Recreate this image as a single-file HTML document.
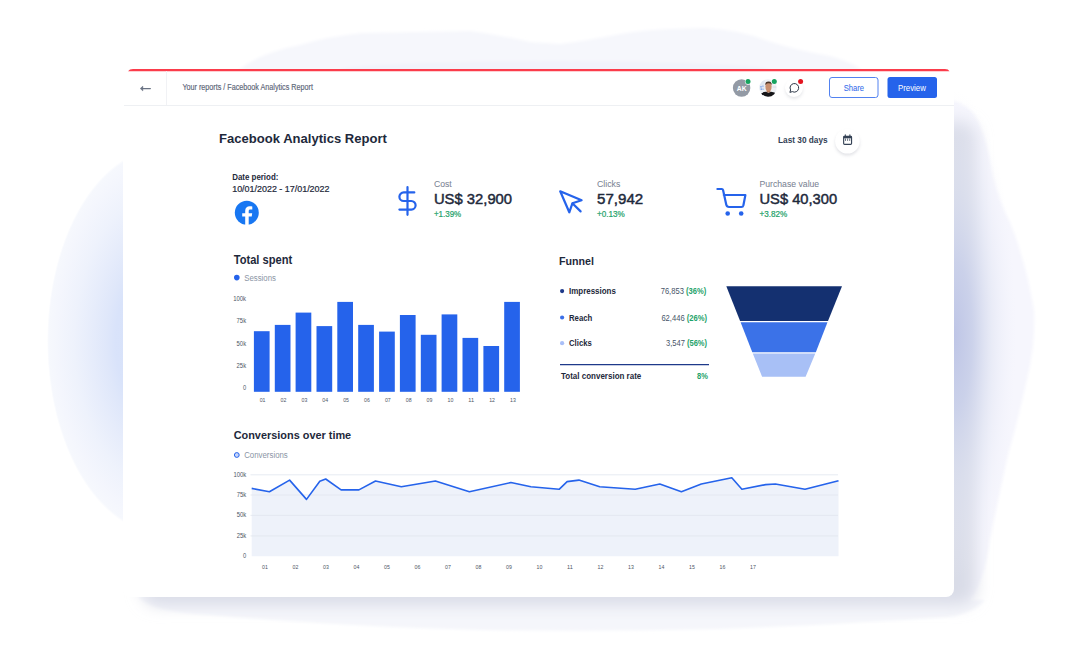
<!DOCTYPE html>
<html><head><meta charset="utf-8"><title>Facebook Analytics Report</title>
<style>
html,body{margin:0;padding:0;}
body{width:1080px;height:664px;overflow:hidden;background:#fff;position:relative;font-family:"Liberation Sans",Arial,sans-serif;}
.abs{position:absolute;}
.blob{position:absolute;border-radius:50%;}
#card{position:absolute;left:123px;top:69px;width:831px;height:528px;background:#fff;border-radius:7px 7px 8px 8px;}
svg text{font-family:"Liberation Sans",Arial,sans-serif;}
</style></head>
<body>

<svg class="abs" style="left:0;top:0" width="1080" height="664" viewBox="0 0 1080 664">
<defs>
<radialGradient id="gl" cx="165" cy="341" r="1" gradientUnits="userSpaceOnUse" gradientTransform="translate(165 341) scale(118 194) translate(-165 -341)">
<stop offset="0" stop-color="#d4dff9"/><stop offset="0.42" stop-color="#d9e3fa"/><stop offset="0.5" stop-color="#dfe7fa"/><stop offset="0.62" stop-color="#e6ecfb"/><stop offset="0.77" stop-color="#eef2fc"/><stop offset="0.92" stop-color="#f4f6fd"/><stop offset="0.985" stop-color="#f6f8fd"/><stop offset="1" stop-color="#fff"/>
</radialGradient>
<radialGradient id="gr" cx="954" cy="335" r="1" gradientUnits="userSpaceOnUse" gradientTransform="translate(954 335) scale(62 245) translate(-954 -335)">
<stop offset="0" stop-color="#bec5e6" stop-opacity="1"/><stop offset="0.3" stop-color="#c8cfea" stop-opacity="0.85"/><stop offset="0.6" stop-color="#dadff0" stop-opacity="0.5"/><stop offset="1" stop-color="#eeeffa" stop-opacity="0"/>
</radialGradient>
<filter id="b10" x="-10%" y="-10%" width="120%" height="120%"><feGaussianBlur stdDeviation="8"/></filter>
<filter id="b2"><feGaussianBlur stdDeviation="1.5"/></filter>
</defs>
<g filter="url(#b2)">
<path d="M238 70 Q262 52 300 45 Q330 36 362 33 L470 31 Q505 36 530 42 L560 44 Q590 40 615 35 Q640 30 670 29 L705 28 Q740 30 765 40 Q795 50 830 56 Q852 62 862 70 Z" fill="#f6f7fc"/><ellipse cx="555" cy="70" rx="215" ry="9" fill="#f1f3fb"/>
<path d="M138 596 Q150 612 210 615 Q330 626 480 630 Q600 632 720 629 Q850 624 950 617 Q975 612 985 600 Z" fill="#f5f6fb"/>
<path d="M940 101 L954 101 Q966 104 975 115 Q986 135 992 170 Q998 200 1010 222 Q1026 262 1034 310 Q1036 340 1028 375 Q1018 420 1008 455 Q998 500 990 540 Q985 580 970 600 L940 600 Z" fill="#f6f6fd"/>
</g>
<ellipse cx="165" cy="341" rx="118" ry="194" fill="url(#gl)"/>
<rect x="142" y="122" width="834" height="483" rx="16" fill="#d9dce7" filter="url(#b10)"/>
<ellipse cx="954" cy="335" rx="62" ry="245" fill="url(#gr)"/>
</svg>

<div id="card"></div>
<svg class="abs" style="left:0;top:0" width="1080" height="664" viewBox="0 0 1080 664">
<path d="M128 71.2 Q129.5 69 133 69 L945 69 Q948.5 69 949.5 71.2 Z" fill="#fb3c4b"/>
<line x1="124" y1="105.5" x2="954" y2="105.5" stroke="#eef0f3" stroke-width="1"/>
<line x1="166.5" y1="71" x2="166.5" y2="105" stroke="#f1f2f5" stroke-width="1"/>
<path d="M142 88.55 H150.3" stroke="#697283" stroke-width="1.35" stroke-linecap="round"/><path d="M140.2 88.55 L142.9 86.1 L142.9 91 Z" fill="#697283" stroke="#697283" stroke-width="0.4" stroke-linejoin="round"/>
<text x="182.4" y="90.4" font-size="8.4" fill="#5b6577" textLength="130.5" lengthAdjust="spacingAndGlyphs" stroke="#5b6577" stroke-width="0.15">Your reports / Facebook Analytics Report</text>
<circle cx="741.6" cy="88" r="8.7" fill="#939aa5"/>
<text x="741.7" y="90.9" font-size="7.6" fill="#fff" font-weight="bold" text-anchor="middle" textLength="9.8" lengthAdjust="spacingAndGlyphs">AK</text>
<circle cx="748" cy="81.6" r="3.1" fill="#fff"/><circle cx="748" cy="81.6" r="2.5" fill="#16a35f"/>
<clipPath id="av"><circle cx="768" cy="88" r="8.7"/></clipPath>
<g clip-path="url(#av)"><rect x="759" y="79" width="18" height="18" fill="#eef1f5"/><rect x="759.5" y="80" width="5" height="10" fill="#e2e8f1"/><rect x="760.2" y="86" width="1.6" height="1.6" fill="#8fb0ec"/><rect x="762.2" y="85.5" width="1.4" height="1.4" fill="#9bb8ee"/><rect x="760.6" y="88.4" width="1.5" height="1.5" fill="#7fa2e6"/><rect x="762.4" y="88.6" width="1.4" height="1.4" fill="#a9c1f0"/><rect x="772.5" y="84" width="4" height="1" fill="#d7dde6"/><rect x="772.5" y="86.5" width="4" height="1" fill="#d7dde6"/><rect x="766.6" y="89.5" width="3.8" height="3.2" fill="#b47a5c"/><ellipse cx="768.5" cy="86.6" rx="3.1" ry="4.6" fill="#c98f6f"/><path d="M765.3 85 Q765 81.6 768.6 81.6 Q772.2 81.6 771.8 85.2 L771.2 84 Q770 83 768.5 83.2 Q766.6 83.2 765.9 84.4 Z" fill="#4a3428"/><path d="M759 99 L759.5 94.5 Q762 92.2 766 91.8 L768.5 93 L771 91.8 Q775 92.2 777.5 94.5 L778 99 Z" fill="#141417"/></g>
<circle cx="774.3" cy="81.6" r="3.1" fill="#fff"/><circle cx="774.3" cy="81.6" r="2.5" fill="#16a35f"/>
<circle cx="794" cy="88" r="9" fill="#fff" style="filter:drop-shadow(0 2.2px 1.4px rgba(20,30,60,0.10))"/>
<path d="M789.9 92.4 L790.6 89.9 A4.3 4.3 0 1 1 792.3 91.6 Z" stroke="#2b3646" stroke-width="1" fill="none" stroke-linejoin="round"/>
<circle cx="800.6" cy="81.4" r="2.5" fill="#e3141f"/>
<rect x="829.5" y="77.5" width="48.5" height="20" rx="2.5" fill="#fff" stroke="#5282f0" stroke-width="1"/>
<text x="853.85" y="90.6" font-size="8.6" fill="#3a70ec" text-anchor="middle" textLength="20.4" lengthAdjust="spacingAndGlyphs" stroke="#3a70ec" stroke-width="0.08">Share</text>
<rect x="887.5" y="77" width="49.5" height="21" rx="2.5" fill="#2563eb"/>
<text x="911.9" y="90.6" font-size="8.6" fill="#fff" text-anchor="middle" textLength="27.9" lengthAdjust="spacingAndGlyphs">Preview</text>
<text x="219.1" y="143.2" font-size="13.3" fill="#1e293b" font-weight="bold" textLength="167.8" lengthAdjust="spacingAndGlyphs">Facebook Analytics Report</text>
<text x="827.6" y="143.1" font-size="8.8" fill="#334155" font-weight="bold" text-anchor="end" textLength="49.6" lengthAdjust="spacingAndGlyphs">Last 30 days</text>
<circle cx="847.4" cy="141.3" r="12.3" fill="#fff" style="filter:drop-shadow(0 2px 1.6px rgba(30,40,70,0.13))"/>
<rect x="843.65" y="136.4" width="7.9" height="8" rx="0.9" fill="none" stroke="#364356" stroke-width="1.15"/>
<rect x="843.6" y="136.3" width="8" height="2" fill="#364356"/>
<path d="M845.3 134.9 V136.5 M849.9 134.9 V136.5" stroke="#364356" stroke-width="1.1" stroke-linecap="round"/>
<path d="M845.5 138.5 V140.9 M847.6 138.5 V140.9 M849.7 138.5 V140.9" stroke="#364356" stroke-width="0.75"/>
<text x="232.2" y="179.8" font-size="8.6" fill="#1e293b" font-weight="bold" textLength="46.2" lengthAdjust="spacingAndGlyphs">Date period:</text>
<text x="232.2" y="192" font-size="8.5" fill="#1e293b" textLength="97.3" lengthAdjust="spacingAndGlyphs" stroke="#1e293b" stroke-width="0.2">10/01/2022 - 17/01/2022</text>
<circle cx="246.8" cy="212.8" r="12" fill="#1877f2"/>
<path transform="translate(0 0.9)" d="M248.7 224.1 V215.7 H251.7 L252.2 212.3 H248.7 V210.2 C248.7 209.2 249.1 208.5 250.5 208.5 H252.3 V205.5 C252.3 205.5 251 205.3 249.7 205.3 C247 205.3 245.2 206.9 245.2 209.9 V212.3 H242.2 V215.7 H245.2 V225 Z" fill="#fff"/>
<g stroke="#2563eb" stroke-width="2.2" fill="none" stroke-linecap="round" stroke-linejoin="round"><line x1="407.5" y1="187" x2="407.5" y2="214.8"/><path d="M414.3 192.4 H403.7 a4.3 4.3 0 0 0 0 8.6 h7.6 a4.3 4.3 0 0 1 0 8.6 H399.4"/></g>
<g stroke="#2563eb" stroke-width="2.2" fill="none" stroke-linecap="round" stroke-linejoin="round"><path d="M560.2 191.3 L569.3 212.3 L572.4 203.3 L581.6 200.3 Z"/><line x1="572.6" y1="203.5" x2="580.6" y2="211.4"/></g>
<g stroke="#2563eb" stroke-width="2.2" fill="none" stroke-linecap="round" stroke-linejoin="round"><path d="M717.4 189 H721.8 Q722.8 189 723.1 190.2 L726.3 204.8 Q726.8 207 729.1 207 H741.3 Q743 207 743.4 205.3 L745.4 195 H723.8"/></g>
<circle cx="727.7" cy="213.5" r="2.3" fill="#2563eb"/><circle cx="741.2" cy="213.5" r="2.3" fill="#2563eb"/>
<text x="433.9" y="186.8" font-size="8.6" fill="#7b8494" textLength="17.8" lengthAdjust="spacingAndGlyphs" stroke="#7b8494" stroke-width="0.05">Cost</text>
<text x="433.9" y="203.6" font-size="14.6" fill="#1e293b" textLength="78.2" lengthAdjust="spacingAndGlyphs" stroke="#1e293b" stroke-width="0.45">US$ 32,900</text>
<text x="433.9" y="216.7" font-size="8.6" fill="#1fa36b" textLength="27.3" lengthAdjust="spacingAndGlyphs" stroke="#1fa36b" stroke-width="0.22">+1.39%</text>
<text x="597" y="186.8" font-size="8.6" fill="#7b8494" textLength="23.3" lengthAdjust="spacingAndGlyphs" stroke="#7b8494" stroke-width="0.05">Clicks</text>
<text x="597" y="203.6" font-size="14.6" fill="#1e293b" textLength="46.2" lengthAdjust="spacingAndGlyphs" stroke="#1e293b" stroke-width="0.45">57,942</text>
<text x="597" y="216.7" font-size="8.6" fill="#1fa36b" textLength="27.8" lengthAdjust="spacingAndGlyphs" stroke="#1fa36b" stroke-width="0.22">+0.13%</text>
<text x="759.5" y="186.8" font-size="8.6" fill="#7b8494" textLength="59.7" lengthAdjust="spacingAndGlyphs" stroke="#7b8494" stroke-width="0.05">Purchase value</text>
<text x="759.5" y="203.6" font-size="14.6" fill="#1e293b" textLength="77.6" lengthAdjust="spacingAndGlyphs" stroke="#1e293b" stroke-width="0.45">US$ 40,300</text>
<text x="759.5" y="216.7" font-size="8.6" fill="#1fa36b" textLength="27.8" lengthAdjust="spacingAndGlyphs" stroke="#1fa36b" stroke-width="0.22">+3.82%</text>
<text x="233.7" y="263.7" font-size="12" fill="#1e293b" font-weight="bold" textLength="58.5" lengthAdjust="spacingAndGlyphs">Total spent</text>
<circle cx="236.8" cy="277.6" r="2.8" fill="#2563eb"/>
<text x="244.2" y="280.7" font-size="8.4" fill="#8b95a5" textLength="31.7" lengthAdjust="spacingAndGlyphs">Sessions</text>
<g fill="#2563eb">
<rect x="253.9" y="331.2" width="15.7" height="60.6"/>
<rect x="274.8" y="324.9" width="15.7" height="66.9"/>
<rect x="295.6" y="312.6" width="15.7" height="79.2"/>
<rect x="316.5" y="326.1" width="15.7" height="65.7"/>
<rect x="337.3" y="301.9" width="15.7" height="89.9"/>
<rect x="358.2" y="324.9" width="15.7" height="66.9"/>
<rect x="379.1" y="331.6" width="15.7" height="60.2"/>
<rect x="399.9" y="315.0" width="15.7" height="76.8"/>
<rect x="420.8" y="334.8" width="15.7" height="57.0"/>
<rect x="441.6" y="314.4" width="15.7" height="77.4"/>
<rect x="462.5" y="337.9" width="15.7" height="53.9"/>
<rect x="483.4" y="346.0" width="15.7" height="45.8"/>
<rect x="504.2" y="301.9" width="15.7" height="89.9"/>
</g>
<text x="246.1" y="300.9" font-size="6.6" fill="#4d5666" text-anchor="end" textLength="12.9" lengthAdjust="spacingAndGlyphs">100k</text>
<text x="246.1" y="323.4" font-size="6.6" fill="#4d5666" text-anchor="end" textLength="9.5" lengthAdjust="spacingAndGlyphs">75k</text>
<text x="246.1" y="345.9" font-size="6.6" fill="#4d5666" text-anchor="end" textLength="9.5" lengthAdjust="spacingAndGlyphs">50k</text>
<text x="246.1" y="368.1" font-size="6.6" fill="#4d5666" text-anchor="end" textLength="9.5" lengthAdjust="spacingAndGlyphs">25k</text>
<text x="246.1" y="390.2" font-size="6.6" fill="#4d5666" text-anchor="end" textLength="3.2" lengthAdjust="spacingAndGlyphs">0</text>
<text x="262.6" y="402.2" font-size="5.8" fill="#4d5666" text-anchor="middle" textLength="5.8" lengthAdjust="spacingAndGlyphs">01</text>
<text x="283.5" y="402.2" font-size="5.8" fill="#4d5666" text-anchor="middle" textLength="5.8" lengthAdjust="spacingAndGlyphs">02</text>
<text x="304.4" y="402.2" font-size="5.8" fill="#4d5666" text-anchor="middle" textLength="5.8" lengthAdjust="spacingAndGlyphs">03</text>
<text x="325.2" y="402.2" font-size="5.8" fill="#4d5666" text-anchor="middle" textLength="5.8" lengthAdjust="spacingAndGlyphs">04</text>
<text x="346.1" y="402.2" font-size="5.8" fill="#4d5666" text-anchor="middle" textLength="5.8" lengthAdjust="spacingAndGlyphs">05</text>
<text x="366.9" y="402.2" font-size="5.8" fill="#4d5666" text-anchor="middle" textLength="5.8" lengthAdjust="spacingAndGlyphs">06</text>
<text x="387.8" y="402.2" font-size="5.8" fill="#4d5666" text-anchor="middle" textLength="5.8" lengthAdjust="spacingAndGlyphs">07</text>
<text x="408.7" y="402.2" font-size="5.8" fill="#4d5666" text-anchor="middle" textLength="5.8" lengthAdjust="spacingAndGlyphs">08</text>
<text x="429.5" y="402.2" font-size="5.8" fill="#4d5666" text-anchor="middle" textLength="5.8" lengthAdjust="spacingAndGlyphs">09</text>
<text x="450.4" y="402.2" font-size="5.8" fill="#4d5666" text-anchor="middle" textLength="5.8" lengthAdjust="spacingAndGlyphs">10</text>
<text x="471.2" y="402.2" font-size="5.8" fill="#4d5666" text-anchor="middle" textLength="5.8" lengthAdjust="spacingAndGlyphs">11</text>
<text x="492.1" y="402.2" font-size="5.8" fill="#4d5666" text-anchor="middle" textLength="5.8" lengthAdjust="spacingAndGlyphs">12</text>
<text x="513.0" y="402.2" font-size="5.8" fill="#4d5666" text-anchor="middle" textLength="5.8" lengthAdjust="spacingAndGlyphs">13</text>
<text x="558.9" y="265.4" font-size="11.8" fill="#1e293b" font-weight="bold" textLength="35" lengthAdjust="spacingAndGlyphs">Funnel</text>
<circle cx="562.1" cy="291.09999999999997" r="2.1" fill="#1e3a8a"/>
<text x="569" y="294.09999999999997" font-size="8.5" fill="#1e293b" font-weight="bold" textLength="46.9" lengthAdjust="spacingAndGlyphs">Impressions</text>
<text x="706.2" y="294.2" font-size="8.5" fill="#475569" text-anchor="end" textLength="45.5" lengthAdjust="spacingAndGlyphs">76,853 <tspan fill="#1fa36b" font-weight="bold">(36%)</tspan></text>
<circle cx="562.1" cy="317.5" r="2.1" fill="#3b6fe8"/>
<text x="569" y="320.5" font-size="8.5" fill="#1e293b" font-weight="bold" textLength="23.3" lengthAdjust="spacingAndGlyphs">Reach</text>
<text x="707.1" y="320.6" font-size="8.5" fill="#475569" text-anchor="end" textLength="45.7" lengthAdjust="spacingAndGlyphs">62,446 <tspan fill="#1fa36b" font-weight="bold">(26%)</tspan></text>
<circle cx="562.1" cy="343.2" r="2.1" fill="#a9bff8"/>
<text x="569" y="346.2" font-size="8.5" fill="#1e293b" font-weight="bold" textLength="22.9" lengthAdjust="spacingAndGlyphs">Clicks</text>
<text x="707.1" y="346.3" font-size="8.5" fill="#475569" text-anchor="end" textLength="41.1" lengthAdjust="spacingAndGlyphs">3,547 <tspan fill="#1fa36b" font-weight="bold">(56%)</tspan></text>
<line x1="560" y1="364.6" x2="709" y2="364.6" stroke="#1e3a8a" stroke-width="1.2"/>
<text x="561" y="379" font-size="8.5" fill="#1e293b" font-weight="bold" textLength="80.3" lengthAdjust="spacingAndGlyphs">Total conversion rate</text>
<text x="707.9" y="379" font-size="8.5" fill="#1fa36b" font-weight="bold" text-anchor="end" textLength="10.9" lengthAdjust="spacingAndGlyphs">8%</text>
<polygon points="726.3,286.3 842,286.3 828,320.9 740.1,320.9" fill="#143070"/>
<polygon points="740.6,322.2 827.5,322.2 815.8,352.2 752.3,352.2" fill="#3b72e8"/>
<polygon points="752.8,353.5 815.3,353.5 805.6,376.7 762.1,376.7" fill="#a8c0f6"/>
<text x="233.7" y="438.9" font-size="11.6" fill="#1e293b" font-weight="bold" textLength="117.5" lengthAdjust="spacingAndGlyphs">Conversions over time</text>
<circle cx="236.8" cy="455" r="2.4" fill="#c7d6fb" stroke="#2563eb" stroke-width="1"/>
<text x="244.2" y="458.1" font-size="8.4" fill="#8b95a5" textLength="43.6" lengthAdjust="spacingAndGlyphs">Conversions</text>
<polygon points="251.7,556.3 251.7,488.4 269.4,491.7 289.6,480.1 306.5,499.4 319.8,481.3 325.7,479 341.1,489.9 358.9,489.9 375.5,481 401.3,486.7 435.4,481 469.4,491.7 510.9,482.5 530.9,486.7 559.1,489.3 567.1,481.6 578.9,480.1 599.7,486.7 635.2,489.3 659.8,484 681.4,491.7 701.3,484 731.8,477.8 741.9,489.3 765.6,484.6 775.4,484 805,489.3 838.5,480.7 838.5,556.3" fill="#eef2fa"/>
<line x1="250.5" y1="474.8" x2="838" y2="474.8" stroke="#e1e6ef" stroke-width="0.8"/>
<line x1="250.5" y1="495" x2="838" y2="495" stroke="#e1e6ef" stroke-width="0.8"/>
<line x1="250.5" y1="515.4" x2="838" y2="515.4" stroke="#e1e6ef" stroke-width="0.8"/>
<line x1="250.5" y1="535.9" x2="838" y2="535.9" stroke="#e1e6ef" stroke-width="0.8"/>
<polyline points="251.7,488.4 269.4,491.7 289.6,480.1 306.5,499.4 319.8,481.3 325.7,479 341.1,489.9 358.9,489.9 375.5,481 401.3,486.7 435.4,481 469.4,491.7 510.9,482.5 530.9,486.7 559.1,489.3 567.1,481.6 578.9,480.1 599.7,486.7 635.2,489.3 659.8,484 681.4,491.7 701.3,484 731.8,477.8 741.9,489.3 765.6,484.6 775.4,484 805,489.3 838.5,480.7" fill="none" stroke="#2563eb" stroke-width="1.6" stroke-linejoin="round"/>
<text x="246.3" y="476.6" font-size="6.6" fill="#4d5666" text-anchor="end" textLength="12.9" lengthAdjust="spacingAndGlyphs">100k</text>
<text x="246.3" y="496.8" font-size="6.6" fill="#4d5666" text-anchor="end" textLength="9.5" lengthAdjust="spacingAndGlyphs">75k</text>
<text x="246.3" y="517.1999999999999" font-size="6.6" fill="#4d5666" text-anchor="end" textLength="9.5" lengthAdjust="spacingAndGlyphs">50k</text>
<text x="246.3" y="537.6999999999999" font-size="6.6" fill="#4d5666" text-anchor="end" textLength="9.5" lengthAdjust="spacingAndGlyphs">25k</text>
<text x="246.3" y="558.0999999999999" font-size="6.6" fill="#4d5666" text-anchor="end" textLength="3.2" lengthAdjust="spacingAndGlyphs">0</text>
<text x="265.0" y="569.4" font-size="5.8" fill="#4d5666" text-anchor="middle" textLength="5.8" lengthAdjust="spacingAndGlyphs">01</text>
<text x="295.5" y="569.4" font-size="5.8" fill="#4d5666" text-anchor="middle" textLength="5.8" lengthAdjust="spacingAndGlyphs">02</text>
<text x="326.0" y="569.4" font-size="5.8" fill="#4d5666" text-anchor="middle" textLength="5.8" lengthAdjust="spacingAndGlyphs">03</text>
<text x="356.5" y="569.4" font-size="5.8" fill="#4d5666" text-anchor="middle" textLength="5.8" lengthAdjust="spacingAndGlyphs">04</text>
<text x="387.0" y="569.4" font-size="5.8" fill="#4d5666" text-anchor="middle" textLength="5.8" lengthAdjust="spacingAndGlyphs">05</text>
<text x="417.5" y="569.4" font-size="5.8" fill="#4d5666" text-anchor="middle" textLength="5.8" lengthAdjust="spacingAndGlyphs">06</text>
<text x="448.0" y="569.4" font-size="5.8" fill="#4d5666" text-anchor="middle" textLength="5.8" lengthAdjust="spacingAndGlyphs">07</text>
<text x="478.5" y="569.4" font-size="5.8" fill="#4d5666" text-anchor="middle" textLength="5.8" lengthAdjust="spacingAndGlyphs">08</text>
<text x="509.0" y="569.4" font-size="5.8" fill="#4d5666" text-anchor="middle" textLength="5.8" lengthAdjust="spacingAndGlyphs">09</text>
<text x="539.5" y="569.4" font-size="5.8" fill="#4d5666" text-anchor="middle" textLength="5.8" lengthAdjust="spacingAndGlyphs">10</text>
<text x="570.0" y="569.4" font-size="5.8" fill="#4d5666" text-anchor="middle" textLength="5.8" lengthAdjust="spacingAndGlyphs">11</text>
<text x="600.5" y="569.4" font-size="5.8" fill="#4d5666" text-anchor="middle" textLength="5.8" lengthAdjust="spacingAndGlyphs">12</text>
<text x="631.0" y="569.4" font-size="5.8" fill="#4d5666" text-anchor="middle" textLength="5.8" lengthAdjust="spacingAndGlyphs">13</text>
<text x="661.5" y="569.4" font-size="5.8" fill="#4d5666" text-anchor="middle" textLength="5.8" lengthAdjust="spacingAndGlyphs">14</text>
<text x="692.0" y="569.4" font-size="5.8" fill="#4d5666" text-anchor="middle" textLength="5.8" lengthAdjust="spacingAndGlyphs">15</text>
<text x="722.5" y="569.4" font-size="5.8" fill="#4d5666" text-anchor="middle" textLength="5.8" lengthAdjust="spacingAndGlyphs">16</text>
<text x="753.0" y="569.4" font-size="5.8" fill="#4d5666" text-anchor="middle" textLength="5.8" lengthAdjust="spacingAndGlyphs">17</text>
</svg>
</body></html>
